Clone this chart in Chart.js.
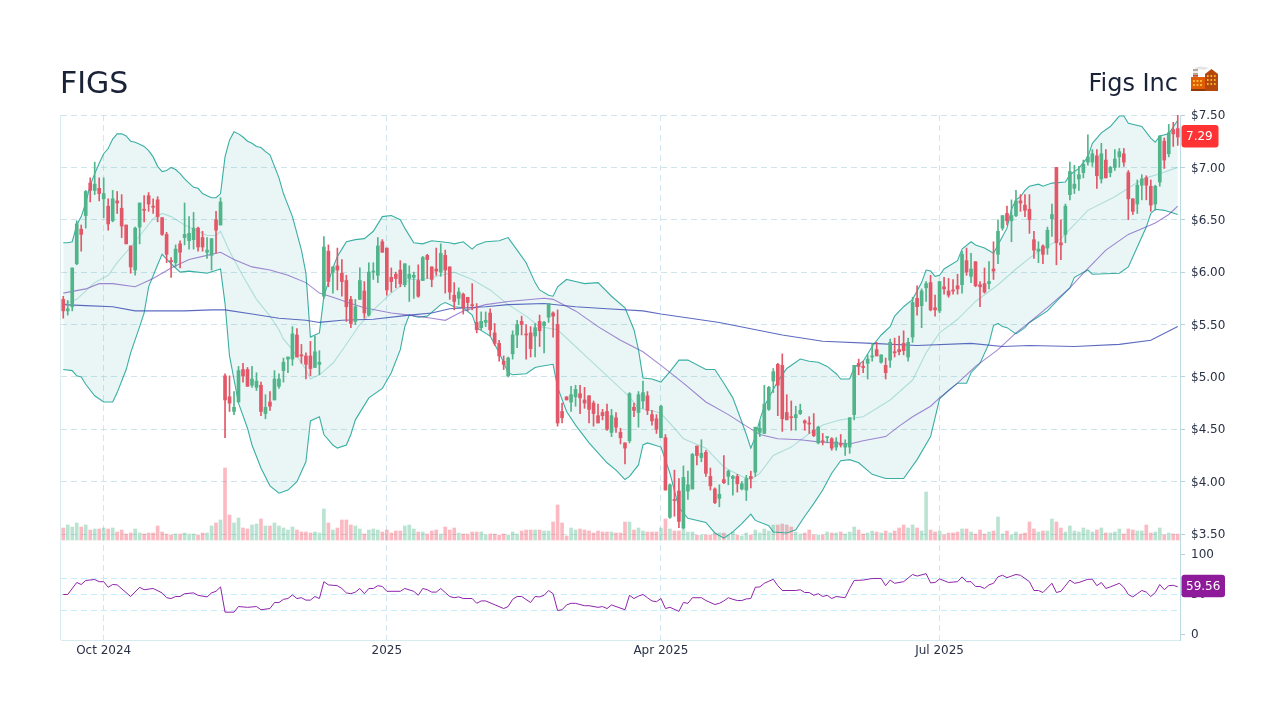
<!DOCTYPE html>
<html>
<head>
<meta charset="utf-8">
<title>FIGS</title>
<script src="https://cdn.jsdelivr.net/npm/chart.js@4/dist/chart.umd.min.js"></script>
<style>
  html, body { margin: 0; padding: 0; background: #fff; }
  #wrap { position: relative; width: 1280px; height: 720px; overflow: hidden; font-family: "DejaVu Sans", sans-serif; color: #1a2238; }
  #chart { position: absolute; left: 0; top: 0; }
  #ticker { position: absolute; left: 60px; top: 65px; font-size: 30px; line-height: 36px; }
  #company { position: absolute; right: 102px; top: 65px; font-size: 24px; line-height: 36px; white-space: nowrap; }
  #factory { position: absolute; left: 1190px; top: 66px; width: 28px; height: 26px; }
</style>
</head>
<body>
<div id="wrap">
  <canvas id="chart" width="1280" height="720"></canvas>
  <div id="ticker">FIGS</div>
  <div id="company">Figs Inc</div>
  <!-- factory icon -->
  <svg id="factory" viewBox="0 0 28 26">
    <path d="M5 2 C9 0 14 0 19 2 L14 4 C11 3 8 3 6 5 Z" fill="#e4e4e4"/>
    <rect x="3" y="3" width="5" height="10" fill="#b9a79b"/>
    <rect x="3" y="5" width="5" height="2" fill="#f1ebe6"/>
    <rect x="3" y="9" width="5" height="1.5" fill="#d9482b"/>
    <rect x="1" y="11" width="15" height="14" fill="#e25c05"/>
    <rect x="1" y="23" width="27" height="2" fill="#8f3a0a"/>
    <path d="M15 8 L21.5 3 L28 8 L28 25 L15 25 Z" fill="#b6470c"/>
    <g fill="#f7b733">
      <rect x="3" y="14" width="2" height="2"/><rect x="6.5" y="14" width="2" height="2"/><rect x="10" y="14" width="2" height="2"/>
      <rect x="3" y="18" width="2" height="2"/><rect x="6.5" y="18" width="2" height="2"/><rect x="10" y="18" width="2" height="2"/>
      <rect x="17" y="9" width="1.6" height="2"/><rect x="20.5" y="9" width="1.6" height="2"/><rect x="24" y="9" width="1.6" height="2"/>
      <rect x="17" y="13" width="1.6" height="2"/><rect x="20.5" y="13" width="1.6" height="2"/><rect x="24" y="13" width="1.6" height="2"/>
      <rect x="17" y="17" width="1.6" height="2"/><rect x="20.5" y="17" width="1.6" height="2"/><rect x="24" y="17" width="1.6" height="2"/>
    </g>
  </svg>
</div>
<script>
// Candles
const open = [
  5.74,5.63,5.67,6.08,6.41,6.54,6.85,6.78,6.8,6.7,
  6.63,6.49,6.68,6.61,6.45,6.25,6.02,6.43,6.6,6.73,
  6.63,6.69,6.52,6.36,6.11,6.09,6.27,6.33,6.3,6.31,
  6.42,6.33,6.19,6.16,6.5,6.45,5.01,4.81,4.67,4.76,
  5.07,5.07,4.92,4.9,4.92,4.65,4.76,4.78,4.91,5.06,
  5.17,5.17,5.4,5.21,5.2,5.2,5.09,5.12,5.77,6.2,
  6.0,6.06,5.99,5.92,5.74,5.53,5.74,5.82,5.59,6.0,
  5.97,6.29,6.23,5.95,5.98,6.02,5.88,5.94,5.95,5.92,
  5.92,6.16,6.05,6.03,6.0,6.16,6.05,5.78,5.75,5.79,
  5.76,5.69,5.52,5.47,5.52,5.61,5.42,5.32,5.15,5.01,
  5.22,5.4,5.53,5.41,5.42,5.39,5.53,5.49,5.57,5.61,
  5.5,4.67,4.81,4.76,4.81,4.84,4.78,4.82,4.75,4.63,
  4.66,4.67,4.47,4.61,4.47,4.37,4.39,4.71,4.66,4.77,
  4.82,4.64,4.6,4.42,4.42,3.66,3.83,3.91,3.56,3.91,
  3.93,4.34,4.23,4.28,4.05,3.93,3.84,4.02,4.05,4.03,
  4.05,3.93,3.92,4.05,4.09,4.47,4.46,4.69,4.96,5.12,
  5.11,4.66,4.62,4.61,4.65,4.58,4.56,4.49,4.37,4.39,
  4.42,4.41,4.33,4.36,4.33,4.33,4.64,5.13,5.1,5.13,
  5.19,5.26,5.14,5.11,5.16,5.24,5.26,5.32,5.19,5.38,
  5.75,5.68,5.85,5.9,5.66,5.63,5.86,5.82,5.83,5.87,
  5.88,6.11,5.96,6.1,5.88,5.89,5.89,6.03,6.17,6.42,
  6.56,6.49,6.54,6.68,6.64,6.6,6.31,6.2,6.25,6.23,
  6.51,7.0,6.28,6.36,6.74,6.8,6.89,6.95,7.05,7.05,
  7.11,6.89,7.07,6.95,7.0,7.1,7.13,6.95,6.7,6.65,
  6.83,6.9,6.82,6.65,6.86,7.25,7.13,7.36,7.37
];
const high = [
  5.77,5.73,6.04,6.49,6.45,6.78,6.9,7.05,6.9,6.9,
  6.7,6.78,6.77,6.74,6.45,6.25,6.43,6.66,6.73,6.76,
  6.7,6.72,6.52,6.38,6.14,6.26,6.3,6.66,6.53,6.57,
  6.43,6.39,6.33,6.32,6.58,6.71,5.03,5.01,4.86,5.1,
  5.13,5.09,5.1,5.04,4.95,4.83,4.86,5.06,5.03,5.18,
  5.19,5.48,5.46,5.31,5.23,5.34,5.39,5.25,6.34,6.26,
  6.05,6.23,6.12,5.97,5.77,5.74,6.04,5.91,6.09,6.09,
  6.33,6.31,6.23,6.04,6.0,6.11,6.08,6.06,6.0,6.07,
  6.15,6.17,6.05,6.23,6.27,6.21,6.05,5.9,5.85,5.8,
  5.76,5.89,5.7,5.62,5.62,5.65,5.51,5.35,5.2,5.19,
  5.44,5.54,5.58,5.5,5.48,5.51,5.59,5.53,5.7,5.62,
  5.64,4.75,4.81,4.91,4.92,4.92,4.9,4.82,4.77,4.74,
  4.69,4.74,4.69,4.66,4.51,4.37,4.85,4.75,4.86,4.96,
  4.86,4.68,4.64,4.73,4.45,3.98,4.11,4.03,4.15,4.1,
  4.27,4.34,4.4,4.3,4.13,3.94,3.97,4.25,4.11,4.06,
  4.07,4.0,4.06,4.1,4.52,4.58,4.92,4.91,5.08,5.13,
  5.22,4.83,4.77,4.72,4.74,4.59,4.62,4.65,4.53,4.46,
  4.43,4.42,4.42,4.45,4.4,4.61,5.11,5.17,5.15,5.21,
  5.32,5.33,5.21,5.18,5.36,5.37,5.39,5.44,5.37,5.76,
  5.87,5.84,5.91,5.97,5.78,5.91,5.95,5.94,5.93,5.98,
  6.2,6.23,6.18,6.1,5.91,6.04,6.1,6.29,6.5,6.54,
  6.63,6.69,6.78,6.74,6.74,6.74,6.39,6.29,6.26,6.43,
  6.65,7.0,6.5,6.65,7.05,7.02,7.01,7.07,7.31,7.17,
  7.17,7.23,7.17,7.01,7.17,7.18,7.18,6.97,6.7,6.88,
  6.93,6.92,6.88,6.83,7.3,7.28,7.41,7.43,7.51
];
const low = [
  5.56,5.59,5.63,6.07,6.2,6.42,6.67,6.74,6.68,6.52,
  6.4,6.48,6.56,6.33,6.27,5.99,5.97,6.27,6.48,6.58,
  6.56,6.48,6.35,6.09,5.95,6.05,6.04,6.26,6.22,6.22,
  6.2,6.2,6.13,6.02,6.18,6.45,4.42,4.67,4.64,4.76,
  4.95,4.91,4.9,4.87,4.63,4.6,4.68,4.78,4.89,4.95,
  5.04,5.11,5.19,5.13,4.98,5.01,5.09,5.02,5.75,5.86,
  5.8,5.83,5.77,5.53,5.47,5.5,5.74,5.56,5.58,5.93,
  5.9,6.19,5.78,5.81,5.85,5.86,5.86,5.72,5.75,5.76,
  5.92,5.94,5.86,5.97,5.96,5.8,5.74,5.64,5.69,5.6,
  5.63,5.64,5.42,5.45,5.48,5.39,5.3,5.15,5.07,5.0,
  5.17,5.28,5.4,5.17,5.19,5.19,5.29,5.23,5.52,5.38,
  4.53,4.56,4.78,4.67,4.72,4.65,4.7,4.56,4.53,4.56,
  4.59,4.49,4.43,4.47,4.36,4.17,4.37,4.62,4.52,4.7,
  4.64,4.54,4.46,4.42,3.92,3.65,3.67,3.56,3.55,3.83,
  3.93,4.16,4.19,4.05,3.92,3.79,3.76,3.98,3.97,3.87,
  3.9,3.92,3.82,3.94,4.05,4.43,4.46,4.68,4.85,4.63,
  4.48,4.59,4.49,4.49,4.64,4.49,4.46,4.43,4.36,4.35,
  4.37,4.3,4.3,4.33,4.25,4.27,4.59,5.02,5.04,4.98,
  5.15,5.2,5.13,4.98,5.09,5.19,5.21,5.21,5.15,5.33,
  5.59,5.47,5.72,5.63,5.58,5.61,5.79,5.76,5.79,5.79,
  5.8,5.97,5.9,5.86,5.67,5.8,5.84,5.93,6.08,6.4,
  6.45,6.29,6.53,6.58,6.53,6.37,6.13,6.09,6.08,6.17,
  6.34,6.07,6.12,6.28,6.69,6.75,6.78,6.9,7.02,7.01,
  6.8,6.85,6.9,6.91,6.97,7.0,7.01,6.5,6.55,6.56,
  6.69,6.69,6.58,6.59,6.82,6.99,7.1,7.2,7.21
];
const close = [
  5.63,5.65,6.04,6.46,6.36,6.77,6.78,6.84,6.75,6.75,
  6.46,6.7,6.66,6.44,6.27,6.05,6.42,6.66,6.59,6.65,
  6.62,6.53,6.36,6.17,6.1,6.22,6.19,6.36,6.37,6.42,
  6.24,6.24,6.21,6.32,6.4,6.67,4.78,4.75,4.71,5.06,
  5.01,4.91,4.98,4.96,4.67,4.71,4.72,4.98,4.98,5.14,
  5.19,5.41,5.19,5.2,5.12,5.08,5.24,5.14,6.24,5.91,
  6.05,6.02,5.91,5.67,5.51,5.67,5.92,5.61,6.0,6.01,
  6.25,6.19,5.83,5.91,5.94,5.89,6.08,5.98,5.97,5.77,
  6.14,6.12,5.93,6.01,6.18,6.02,5.81,5.72,5.81,5.66,
  5.71,5.68,5.45,5.53,5.54,5.45,5.32,5.2,5.12,5.18,
  5.4,5.5,5.5,5.4,5.27,5.47,5.44,5.52,5.7,5.58,
  4.56,4.61,4.78,4.83,4.88,4.8,4.75,4.69,4.65,4.56,
  4.63,4.5,4.63,4.52,4.42,4.32,4.84,4.68,4.83,4.85,
  4.68,4.58,4.5,4.72,3.92,3.97,3.82,3.62,4.04,3.97,
  4.26,4.25,4.27,4.08,3.96,3.8,3.88,3.99,4.1,4.05,
  3.98,3.98,4.03,4.03,4.52,4.51,4.74,4.9,5.05,4.92,
  4.6,4.59,4.61,4.64,4.68,4.56,4.55,4.44,4.52,4.38,
  4.43,4.32,4.38,4.35,4.36,4.61,5.11,5.1,5.09,5.17,
  5.2,5.2,5.21,5.04,5.33,5.23,5.24,5.25,5.33,5.71,
  5.67,5.82,5.89,5.64,5.64,5.91,5.84,5.78,5.82,5.84,
  6.17,6.0,6.03,5.87,5.86,5.81,5.91,6.01,6.39,6.54,
  6.49,6.54,6.68,6.66,6.59,6.5,6.21,6.22,6.17,6.4,
  6.55,6.28,6.26,6.63,6.96,6.84,6.93,7.03,7.1,7.13,
  6.92,7.13,6.9,7.0,7.08,7.15,7.05,6.7,6.58,6.83,
  6.89,6.83,6.64,6.82,7.3,7.07,7.33,7.32,7.29
];
// Volume, hundred thousands of shares
const volume = [
  12,15,13,17,13,15,10,11,11,12,
  11,12,8,10,6,7,11,7,6,7,
  7,14,8,6,5,6,6,7,6,6,
  5,7,7,14,17,20,72,25,17,22,
  12,11,15,16,21,14,14,17,14,12,
  10,13,10,8,8,7,8,7,31,17,
  10,12,20,20,15,14,11,6,10,11,
  10,8,10,7,9,9,14,15,11,8,
  8,6,9,10,6,13,10,12,7,6,
  6,8,8,8,5,6,6,5,6,5,
  8,6,9,10,10,10,10,9,9,18,
  35,17,4,12,10,11,10,9,7,9,
  8,8,8,7,7,18,18,10,12,9,
  8,8,8,12,21,11,9,9,12,8,
  8,5,5,5,5,7,7,7,5,8,
  5,4,7,5,10,7,11,9,15,15,
  16,15,13,8,6,7,10,5,5,5,
  8,7,7,8,6,8,13,10,6,7,
  9,8,7,9,7,9,12,15,12,15,
  12,9,48,10,8,9,5,7,7,8,
  11,11,8,6,10,6,8,9,23,6,
  9,5,8,6,7,18,11,8,9,9,
  21,18,12,8,14,9,8,12,10,8,
  10,12,7,7,8,11,6,11,10,9,
  9,15,7,8,12,5,7,6,6
];

// Indicator lines: bar numbers and the values read at those bars
const upperIdx = [0,1,2,3,4,5,6,7,8,9,10,11,12,13,14,15,16,17,18,19,20,21,22,23,24,25,26,27,28,29,30,31,32,33,34,35,36,37,38,39,40,41,42,43,44,45,46,47,48,49,50,51,52,53,54,55,57,58,60,61,62,63,65,67,69,71,73,75,76,78,80,82,84,86,87,89,91,92,94,97,99,101,103,105,106,108,109,110,112,114,116,119,122,125,127,128,129,131,133,135,137,139,143,145,147,149,151,152,153,154,155,156,158,159,161,164,166,168,170,172,173,175,176,178,180,182,184,185,187,189,191,192,193,194,195,196,199,200,202,203,205,207,209,210,211,212,213,214,215,217,218,220,223,224,226,228,229,231,233,235,236,237,240,242,243,244,246,248];
const upperVal = [6.28,6.28,6.29,6.45,6.53,6.66,6.83,6.94,7.04,7.13,7.18,7.27,7.32,7.32,7.3,7.25,7.24,7.22,7.2,7.16,7.1,7.01,6.96,6.97,7.0,6.98,6.94,6.89,6.85,6.81,6.8,6.75,6.73,6.71,6.71,6.75,7.1,7.26,7.34,7.32,7.29,7.25,7.23,7.2,7.19,7.15,7.12,7.01,6.9,6.75,6.64,6.53,6.37,6.21,5.99,5.38,5.42,5.77,6.04,6.15,6.22,6.29,6.31,6.32,6.39,6.53,6.54,6.5,6.42,6.28,6.27,6.3,6.29,6.28,6.27,6.29,6.22,6.26,6.29,6.3,6.33,6.21,6.09,5.9,5.83,5.78,5.77,5.86,5.93,5.91,5.89,5.9,5.77,5.66,5.45,5.26,4.99,4.98,4.95,5.05,5.16,5.16,5.07,5.07,4.94,4.8,4.57,4.45,4.32,4.43,4.59,4.72,4.88,4.96,5.08,5.17,5.15,5.14,5.1,5.03,4.98,4.98,5.09,5.15,5.29,5.4,5.48,5.58,5.67,5.74,5.9,6.02,6.01,5.96,5.97,6.03,6.11,6.22,6.29,6.26,6.23,6.18,6.34,6.42,6.6,6.69,6.72,6.78,6.82,6.84,6.82,6.85,6.86,6.93,6.99,7.1,7.23,7.33,7.39,7.49,7.49,7.42,7.39,7.28,7.24,7.3,7.32,7.45];
const lowerIdx = [0,2,3,4,5,7,9,11,12,14,15,17,18,19,21,22,24,26,28,32,35,36,37,39,41,42,44,46,48,50,52,54,55,57,58,60,61,63,64,65,68,71,73,75,76,77,79,81,84,85,87,89,91,92,95,97,99,100,103,105,106,109,110,112,114,117,121,123,125,126,128,129,130,133,135,137,139,143,145,147,149,151,153,154,157,158,161,163,165,167,169,171,173,175,177,180,183,187,190,193,195,197,199,201,202,204,206,207,208,209,210,212,214,215,219,221,224,225,228,229,235,237,239,241,242,243,245,248];
const lowerVal = [5.07,5.06,5.01,5.0,4.93,4.82,4.76,4.76,4.85,5.07,5.23,5.48,5.61,5.86,6.07,6.17,6.08,6.0,6.01,5.99,6.03,5.7,5.2,4.75,4.51,4.35,4.13,3.96,3.89,3.92,4.0,4.19,4.58,4.62,4.45,4.35,4.32,4.35,4.45,4.59,4.8,4.89,5.04,5.26,5.48,5.59,5.57,5.58,5.69,5.71,5.67,5.66,5.59,5.47,5.39,5.23,5.04,5.02,5.03,5.09,5.1,5.12,4.9,4.67,4.54,4.37,4.18,4.11,4.02,4.05,4.16,4.35,4.37,4.33,4.08,3.75,3.65,3.61,3.51,3.46,3.52,3.6,3.69,3.63,3.58,3.52,3.51,3.54,3.67,3.79,3.92,4.08,4.2,4.21,4.18,4.07,4.03,4.03,4.21,4.43,4.79,4.87,4.94,4.94,5.04,5.13,5.32,5.49,5.51,5.48,5.47,5.41,5.47,5.52,5.63,5.72,5.85,5.95,6.02,5.98,5.99,6.05,6.24,6.43,6.56,6.6,6.59,6.55];
const midIdx = [0,3,7,10,12,15,18,20,22,24,27,30,32,34,35,37,40,43,46,48,49,51,54,55,57,60,62,66,69,73,77,80,84,87,91,95,99,103,106,110,114,117,121,125,126,128,131,133,136,138,143,147,151,153,155,158,162,166,169,173,178,184,189,192,195,199,203,208,212,217,222,226,228,234,238,241,244,248];
const midVal = [5.69,5.74,5.9,5.97,6.09,6.24,6.4,6.51,6.56,6.53,6.45,6.39,6.35,6.35,6.39,6.2,5.96,5.74,5.58,5.45,5.36,5.26,5.07,4.98,5.02,5.13,5.25,5.5,5.64,5.8,5.93,5.93,5.97,6.0,5.93,5.83,5.69,5.58,5.48,5.45,5.29,5.17,5.01,4.85,4.81,4.7,4.68,4.65,4.51,4.41,4.32,4.14,4.05,4.02,4.08,4.25,4.33,4.46,4.54,4.59,4.62,4.78,4.97,5.23,5.42,5.55,5.72,5.88,6.03,6.2,6.32,6.5,6.59,6.72,6.83,6.9,6.94,7.0];
const sma50Idx = [0,5,8,11,16,20,24,28,32,35,38,42,46,50,54,57,60,64,67,73,77,82,85,89,94,99,107,109,114,119,124,129,133,138,143,148,152,155,159,164,168,172,175,178,183,186,189,193,195,199,203,208,212,215,220,224,227,232,237,243,246,248];
const sma50Val = [5.8,5.84,5.89,5.89,5.86,5.94,6.04,6.12,6.16,6.19,6.12,6.05,6.02,5.97,5.9,5.8,5.76,5.7,5.66,5.61,5.59,5.56,5.54,5.63,5.69,5.72,5.75,5.74,5.63,5.48,5.35,5.24,5.11,4.94,4.76,4.64,4.53,4.45,4.41,4.4,4.38,4.37,4.36,4.39,4.43,4.53,4.62,4.72,4.8,4.94,5.1,5.26,5.42,5.52,5.7,5.85,5.99,6.21,6.36,6.47,6.55,6.63];
const sma200Idx = [0,5,11,16,27,33,36,42,48,54,57,62,69,77,82,86,94,99,107,114,121,129,133,146,160,169,180,190,202,209,215,225,235,242,248];
const sma200Val = [5.69,5.68,5.67,5.63,5.63,5.64,5.64,5.6,5.56,5.54,5.52,5.54,5.55,5.59,5.61,5.65,5.67,5.69,5.7,5.67,5.65,5.63,5.6,5.52,5.4,5.34,5.32,5.3,5.32,5.29,5.3,5.29,5.31,5.35,5.48];
const rsiIdx = [0,1,3,4,5,7,8,9,10,11,12,15,17,18,20,22,23,24,25,26,27,29,30,32,33,34,35,36,38,39,41,43,44,46,47,48,49,50,51,52,53,54,55,56,57,58,59,61,62,63,64,65,66,67,68,69,70,71,72,75,76,78,79,80,81,82,83,84,85,86,87,88,89,91,92,93,94,98,99,100,101,102,104,105,106,107,108,109,110,111,112,113,114,116,117,119,120,121,122,123,125,126,127,128,129,130,131,132,133,134,135,137,138,139,140,142,143,145,146,147,148,149,150,151,152,153,154,155,156,157,158,159,160,163,164,165,166,167,168,169,170,171,172,174,175,176,178,180,182,183,184,185,187,189,190,192,193,194,195,197,199,200,201,202,203,204,205,206,207,208,209,210,211,212,213,214,215,216,217,218,220,221,222,224,225,226,228,229,230,231,232,233,235,236,237,238,239,240,241,242,243,244,245,246,247,248];
const rsiVal = [50,50,65,62.5,67.5,68.7,66,66,59,62.5,62,47.5,59,56,57.5,52,46,45,47.5,47.5,51,52,49,47,52,54,59.5,28,28,35,34,35,31,32.5,40,40,44,45,49.5,45,46,43,43,47.5,45,66,62,61,57.5,52,51,53,57.5,51,57.5,57.5,61,60,54,54,57.5,54,49,57.5,56,53,53,57.5,52.5,47.5,46,47,45,45,39,42,42,32.5,35,44,47.5,47.5,40,47.5,47,49,55,51,30,31,37,39,39,36,36,34,35,32.5,37,35,31,49,45,48,50,46,42,41,45,32.5,34,29,40,39,46,46,42.5,37.5,39,42,46,44,42.5,42.5,44.5,45,59,59.5,64,66.5,69,61,55,55,56,52.5,52.5,49,51,47.5,49,45,47.5,46,57.5,67.5,68,70,70,61,68,64,66,75,73,76,64.5,65,69.5,65,66,72,66,66,60,60,57.5,62,64,72,74,71,73,75,74,70,66,55,55,52.5,64,52.5,54,68,64,65,69,69,61,65,57.5,59.5,64,59,50,47,51,55,53,47.5,52.5,62.5,56,61,61.5,59.56];

// Axes
const priceTicks = [3.5,4,4.5,5,5.5,6,6.5,7,7.5];
const rsiTicks = [0,30,50,70,100];
const rsiLabelled = [0,50,100];
const rsiGuides = [30,50,70];
const xTickIdx = [9,72,133,195];
const xTickLabels = ['Oct 2024','2025','Apr 2025','Jul 2025'];
const lastPrice = 7.29;
const lastRsi = 59.56;

const barLabels = open.map((_, i) => String(i));
const isUp = i => close[i] >= open[i];
const candleColor = open.map((_, i) => isUp(i) ? 'rgb(82,180,138)' : 'rgb(226,88,104)');
const volumeColor = open.map((_, i) => isUp(i) ? 'rgba(60,175,125,0.35)' : 'rgba(245,90,110,0.42)');

function knots(idx, val) {
  return idx.map((b, k) => ({ x: barLabels[b], y: val[k] }));
}

function lineSet(data, color, axis, order, extra) {
  return Object.assign({
    type: 'line', data: data, borderColor: color, borderWidth: 1.1,
    pointRadius: 0, tension: 0, fill: false, yAxisID: axis, order: order
  }, extra || {});
}

// Last-value badges and the left frame line
const framePlugin = {
  id: 'framePlugin',
  afterDraw(chart) {
    const ctx = chart.ctx, area = chart.chartArea;
    ctx.save();
    ctx.strokeStyle = 'rgba(215,235,240,1)';
    ctx.lineWidth = 1;
    ctx.beginPath();
    ctx.moveTo(area.left - 0.5, area.top);
    ctx.lineTo(area.left - 0.5, area.bottom);
    ctx.stroke();
    const badge = (y, text, color, w) => {
      ctx.fillStyle = color;
      ctx.beginPath();
      ctx.roundRect(area.right + 1.5, y - 12, w, 22.5, 3);
      ctx.fill();
      ctx.fillStyle = '#fff';
      ctx.font = '12px "DejaVu Sans"';
      ctx.textBaseline = 'middle';
      ctx.textAlign = 'left';
      ctx.fillText(text, area.right + 6, y);
    };
    badge(chart.scales.yPrice.getPixelForValue(lastPrice), lastPrice.toFixed(2), '#ff3333', 37);
    badge(chart.scales.yRsi.getPixelForValue(lastRsi), lastRsi.toFixed(2), '#8e1b9a', 43.5);
    ctx.restore();
  }
};

const tickFont = { family: '"DejaVu Sans"', size: 12 };
const tickColor = '#2a3145';
const gridDash = [6, 4];

new Chart(document.getElementById('chart'), {
  data: {
    labels: barLabels,
    datasets: [
      { type: 'bar', data: volume, backgroundColor: volumeColor, barThickness: 3, grouped: false, yAxisID: 'yVol', order: 7 },
      lineSet(knots(upperIdx, upperVal), 'rgba(38,166,154,0.9)', 'yPrice', 6, { fill: '+1', backgroundColor: 'rgba(38,166,154,0.1)' }),
      lineSet(knots(lowerIdx, lowerVal), 'rgba(38,166,154,0.9)', 'yPrice', 6),
      lineSet(knots(midIdx, midVal), 'rgba(38,166,154,0.3)', 'yPrice', 5),
      lineSet(knots(sma200Idx, sma200Val), 'rgba(63,81,181,0.85)', 'yPrice', 4),
      lineSet(knots(sma50Idx, sma50Val), 'rgba(103,58,183,0.6)', 'yPrice', 3),
      { type: 'bar', data: open.map((_, i) => [low[i], high[i]]), backgroundColor: candleColor, barThickness: 1, grouped: false, yAxisID: 'yPrice', order: 2 },
      { type: 'bar', data: open.map((_, i) => [open[i], close[i]]), backgroundColor: candleColor, barThickness: 3, grouped: false, yAxisID: 'yPrice', order: 1, minBarLength: 1 },
      lineSet(knots(rsiIdx, rsiVal), 'rgba(142,36,170,1)', 'yRsi', 0, { borderWidth: 1 })
    ]
  },
  options: {
    responsive: false,
    animation: false,
    layout: { padding: { left: 61, top: 115, right: 0, bottom: 0 } },
    plugins: { legend: { display: false }, tooltip: { enabled: false }, title: { display: false } },
    scales: {
      x: {
        type: 'category',
        offset: true,
        grid: { offset: false, color: 'rgba(190,220,232,0.7)', tickLength: 0, drawTicks: false },
        border: { color: 'rgba(215,235,240,1)', dash: gridDash },
        ticks: {
          autoSkip: false, maxRotation: 0, font: tickFont, color: tickColor, padding: 4,
          callback: v => xTickLabels[xTickIdx.indexOf(v)]
        },
        afterBuildTicks: s => { s.ticks = xTickIdx.map(v => ({ value: v })); },
        afterFit: s => { s.height = 80; }
      },
      yPrice: {
        type: 'linear', position: 'right', stack: 'panes', stackWeight: 425, weight: 0,
        min: 3.443, max: 7.5,
        grid: { color: 'rgba(190,220,228,0.75)', tickColor: 'rgba(170,205,215,0.9)', tickLength: 5 },
        border: { color: 'rgba(181,215,225,0.9)', dash: gridDash },
        ticks: { autoSkip: false, font: tickFont, color: tickColor, padding: 6, labelOffset: 1, callback: v => '$' + v.toFixed(2) },
        afterBuildTicks: s => { s.ticks = priceTicks.map(v => ({ value: v })); },
        afterFit: s => { s.width = 100; }
      },
      yRsi: {
        type: 'linear', position: 'right', stack: 'panes', stackWeight: 100, weight: 1,
        min: -6.75, max: 118,
        grid: {
          color: c => rsiGuides.includes(c.tick.value) ? 'rgba(190,235,252,0.9)' : 'transparent',
          tickColor: c => rsiLabelled.includes(c.tick.value) ? 'rgba(170,205,215,0.9)' : 'transparent',
          tickLength: 5
        },
        border: { color: 'rgba(181,215,225,0.9)', dash: gridDash },
        ticks: { autoSkip: false, font: tickFont, color: tickColor, padding: 6, callback: v => rsiLabelled.includes(v) ? String(v) : '' },
        afterBuildTicks: s => { s.ticks = rsiTicks.map(v => ({ value: v })); },
        afterFit: s => { s.width = 100; }
      },
      yVol: { type: 'linear', display: false, min: -100, max: 425 }
    }
  },
  plugins: [framePlugin]
});
</script>
</body>
</html>
